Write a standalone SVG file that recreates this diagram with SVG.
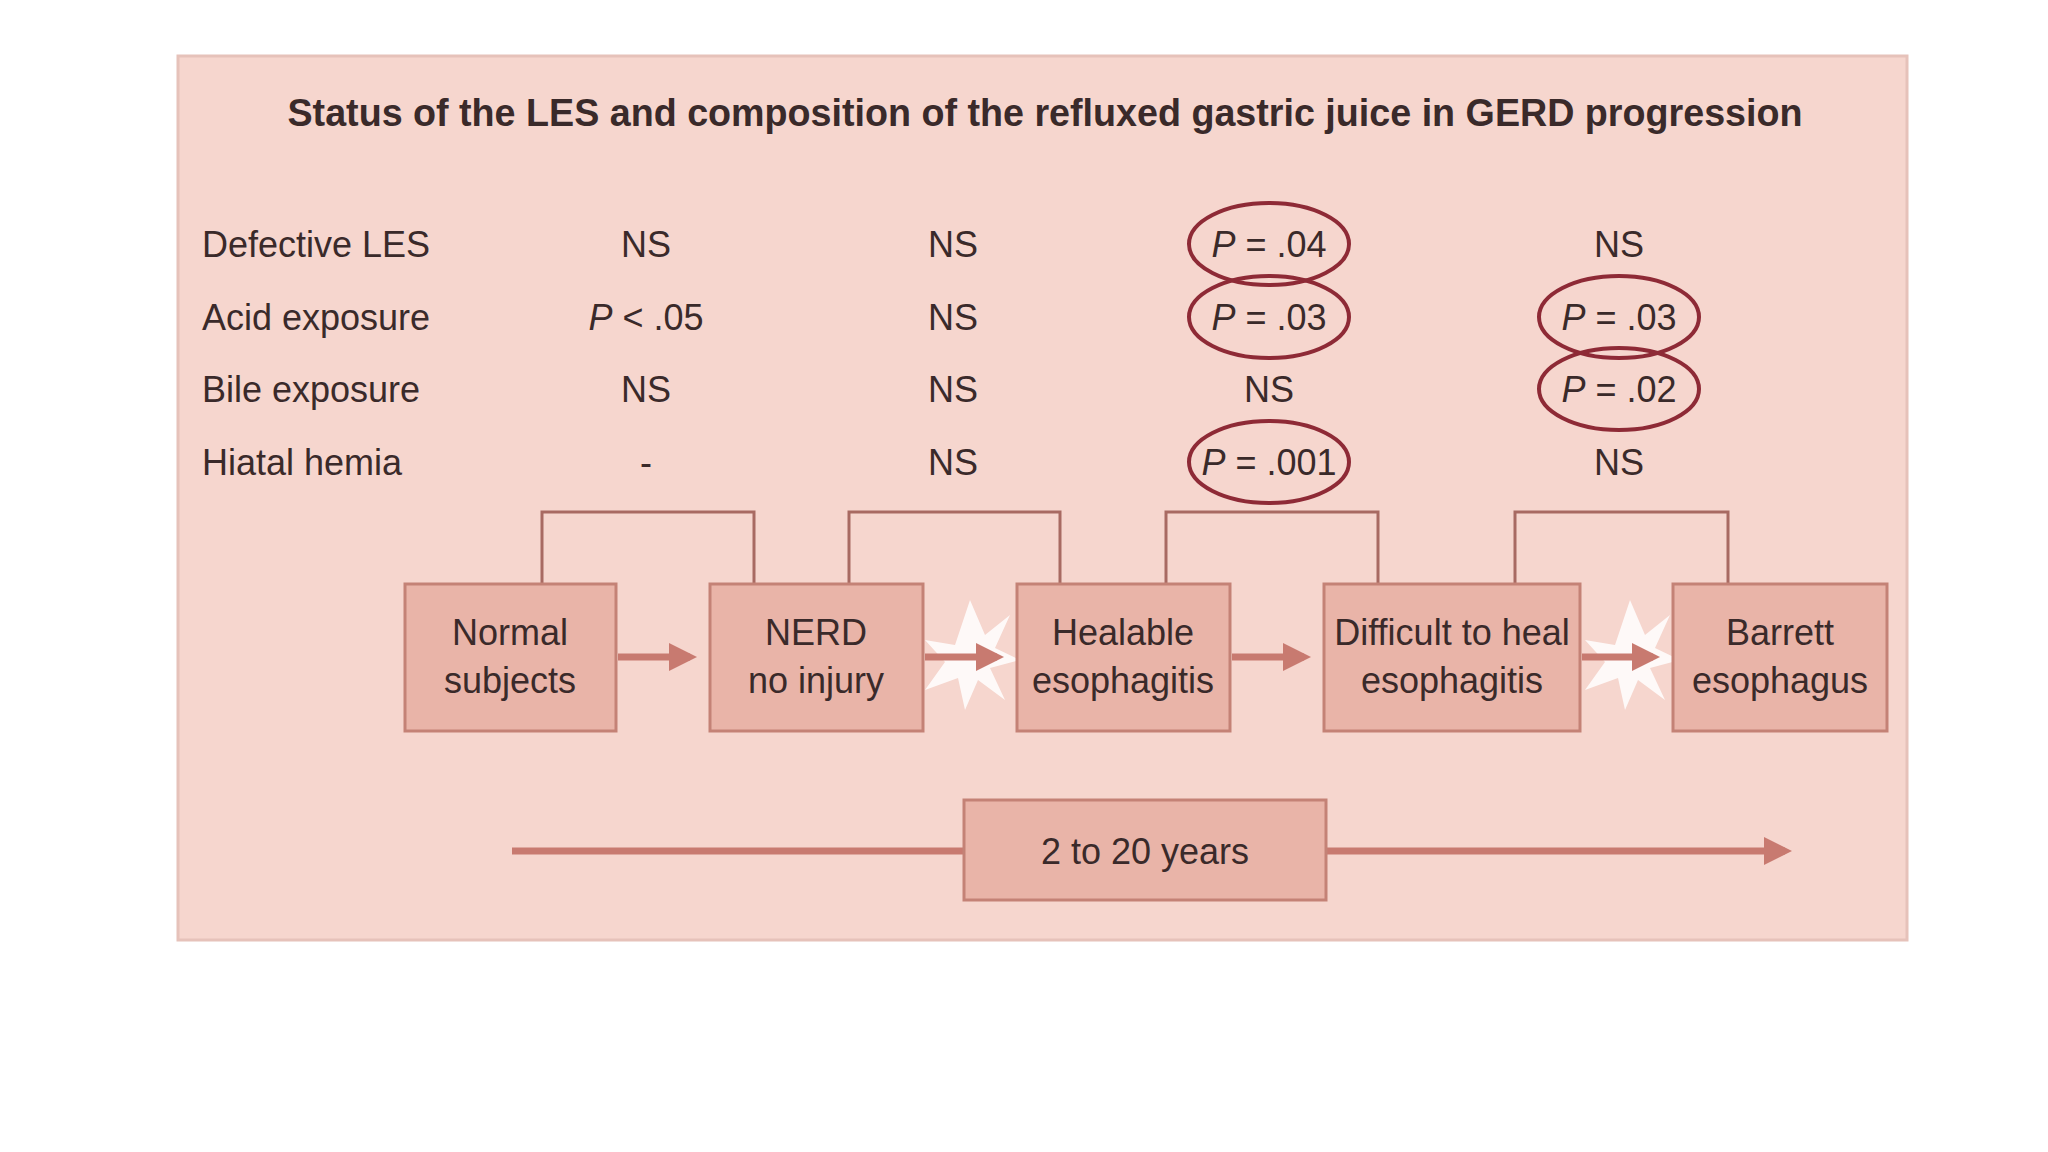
<svg xmlns="http://www.w3.org/2000/svg" width="2048" height="1152" viewBox="0 0 2048 1152">
<defs>
<style>
text{font-family:"Liberation Sans",Arial,sans-serif;fill:#3a2a2a}
.lbl{font-size:36px}
.c{font-size:36px;text-anchor:middle}
.box{fill:#e9b4a8;stroke:#c48276;stroke-width:3}
.br{fill:none;stroke:#a86a62;stroke-width:3}
.ov{fill:none;stroke:#8e2a36;stroke-width:4}
.ar{stroke:#c87a70;stroke-width:7;marker-end:url(#ah)}
</style>
<marker id="ah" markerWidth="4" markerHeight="4" refX="3" refY="2" orient="auto"><path d="M0,0 L4,2 L0,4Z" fill="#c87a70"/></marker>
</defs>
<rect width="2048" height="1152" fill="#fff"/>
<rect x="178" y="56" width="1729" height="884" fill="#f6d6ce" stroke="#e6c2ba" stroke-width="3"/>
<text x="1045" y="126" font-size="38" font-weight="bold" text-anchor="middle" textLength="1515" lengthAdjust="spacingAndGlyphs">Status of the LES and composition of the refluxed gastric juice in GERD progression</text>
<g id="rows">
<text class="lbl" x="202" y="257">Defective LES</text>
<text class="lbl" x="202" y="330">Acid exposure</text>
<text class="lbl" x="202" y="402">Bile exposure</text>
<text class="lbl" x="202" y="475">Hiatal hemia</text>
<text class="c" x="646" y="257">NS</text>
<text class="c" x="646" y="330"><tspan font-style="italic">P</tspan> &lt; .05</text>
<text class="c" x="646" y="402">NS</text>
<text class="c" x="646" y="475">-</text>
<text class="c" x="953" y="257">NS</text>
<text class="c" x="953" y="330">NS</text>
<text class="c" x="953" y="402">NS</text>
<text class="c" x="953" y="475">NS</text>
<text class="c" x="1269" y="257"><tspan font-style="italic">P</tspan> = .04</text>
<text class="c" x="1269" y="330"><tspan font-style="italic">P</tspan> = .03</text>
<text class="c" x="1269" y="402">NS</text>
<text class="c" x="1269" y="475"><tspan font-style="italic">P</tspan> = .001</text>
<text class="c" x="1619" y="257">NS</text>
<text class="c" x="1619" y="330"><tspan font-style="italic">P</tspan> = .03</text>
<text class="c" x="1619" y="402"><tspan font-style="italic">P</tspan> = .02</text>
<text class="c" x="1619" y="475">NS</text>
<ellipse class="ov" cx="1269" cy="244" rx="80" ry="41"/>
<ellipse class="ov" cx="1269" cy="317" rx="80" ry="41"/>
<ellipse class="ov" cx="1269" cy="462" rx="80" ry="41"/>
<ellipse class="ov" cx="1619" cy="317" rx="80" ry="41"/>
<ellipse class="ov" cx="1619" cy="389" rx="80" ry="41"/>
</g>
<g id="connectors">
<path class="br" d="M542,584V512H754V584M849,584V512H1060V584M1166,584V512H1378V584M1515,584V512H1728V584"/>
<g fill="#fff" opacity="0.85">
<polygon points="970,600 985,635 1010,615 995,648 1020,660 990,668 1005,700 978,680 965,710 958,678 925,690 945,662 925,640 955,645"/>
<polygon points="1630,600 1645,635 1670,615 1655,648 1680,660 1650,668 1665,700 1638,680 1625,710 1618,678 1585,690 1605,662 1585,640 1615,645"/>
</g>
<line class="ar" x1="618" y1="657" x2="690" y2="657"/>
<line class="ar" x1="925" y1="657" x2="997" y2="657"/>
<line class="ar" x1="1232" y1="657" x2="1304" y2="657"/>
<line class="ar" x1="1582" y1="657" x2="1653" y2="657"/>
<line x1="512" y1="851" x2="964" y2="851" stroke="#c87a70" stroke-width="7"/>
<line class="ar" x1="1326" y1="851" x2="1785" y2="851"/>
</g>
<g id="n1"><rect class="box" x="405" y="584" width="211" height="147"/><text class="c" x="510" y="645">Normal</text><text class="c" x="510" y="693">subjects</text></g>
<g id="n2"><rect class="box" x="710" y="584" width="213" height="147"/><text class="c" x="816" y="645">NERD</text><text class="c" x="816" y="693">no injury</text></g>
<g id="n3"><rect class="box" x="1017" y="584" width="213" height="147"/><text class="c" x="1123" y="645">Healable</text><text class="c" x="1123" y="693">esophagitis</text></g>
<g id="n4"><rect class="box" x="1324" y="584" width="256" height="147"/><text class="c" x="1452" y="645">Difficult to heal</text><text class="c" x="1452" y="693">esophagitis</text></g>
<g id="n5"><rect class="box" x="1673" y="584" width="214" height="147"/><text class="c" x="1780" y="645">Barrett</text><text class="c" x="1780" y="693">esophagus</text></g>
<g id="t"><rect class="box" x="964" y="800" width="362" height="100"/><text class="c" x="1145" y="864">2 to 20 years</text></g>
</svg>
